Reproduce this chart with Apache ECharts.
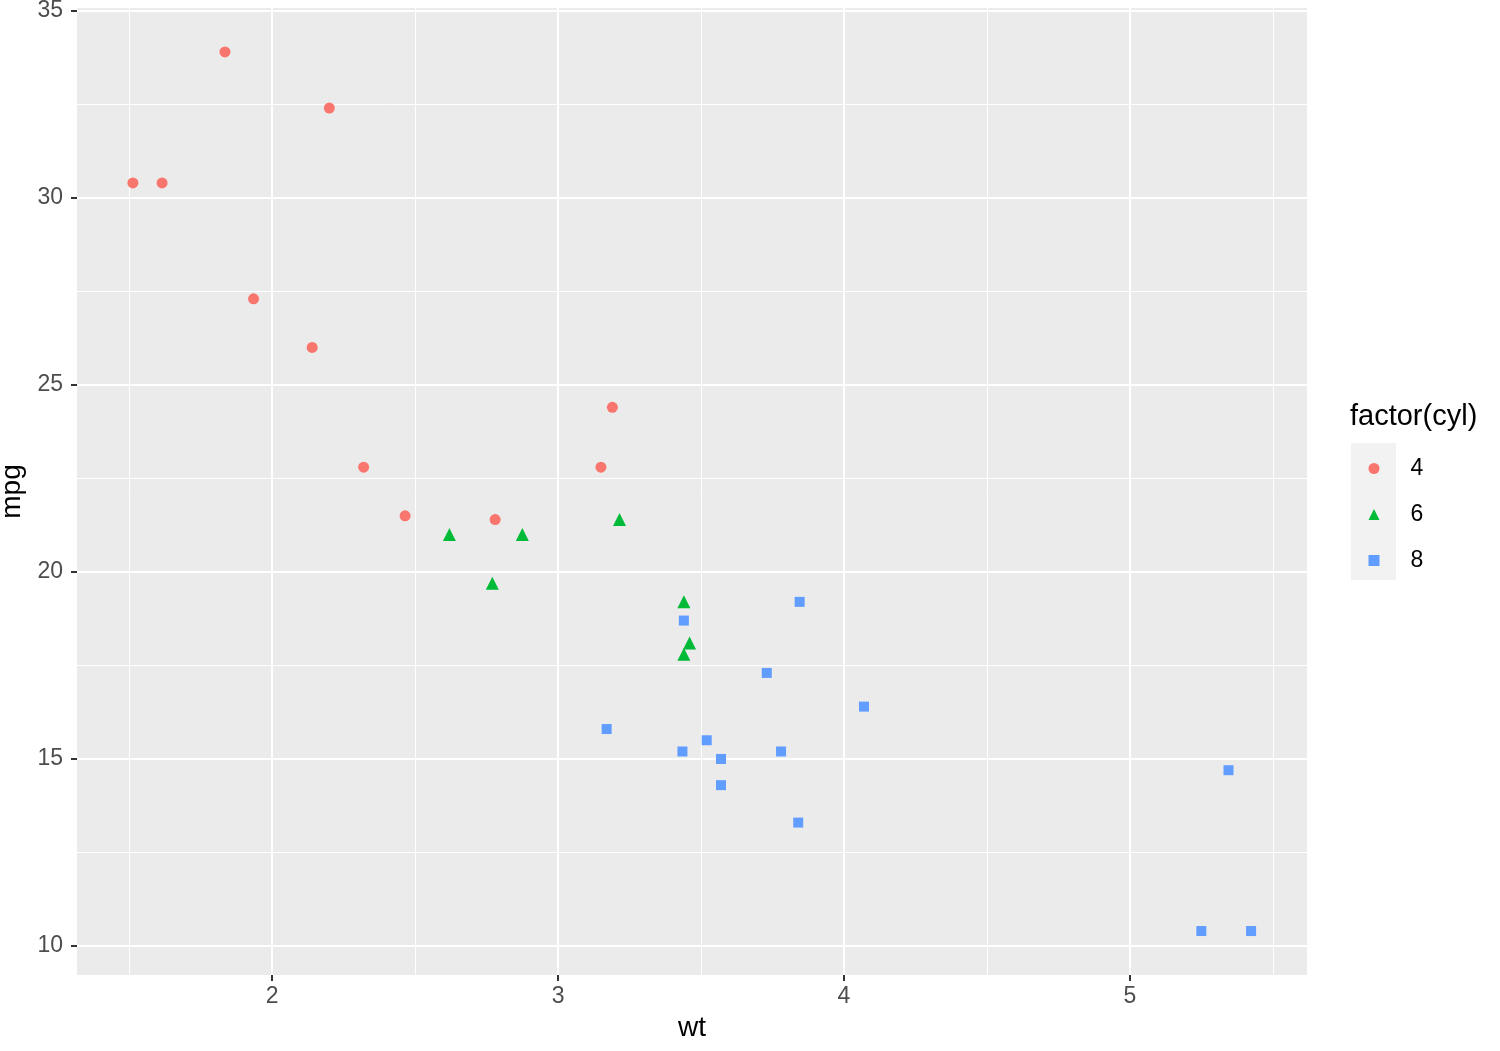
<!DOCTYPE html>
<html>
<head>
<meta charset="utf-8">
<script src="https://cdn.jsdelivr.net/npm/echarts@6/dist/echarts.min.js"></script>
<style>
  html, body { margin: 0; padding: 0; background: #fff; }
  #main { width: 1500px; height: 1051px; }
</style>
</head>
<body>
<div id="main"></div>
<script>
// mtcars: wt (1000 lbs) vs mpg, split by number of cylinders
const wt4 = [2.320, 3.190, 3.150, 2.200, 1.615, 1.835, 2.465, 1.935, 2.140, 1.513, 2.780];
const mpg4 = [22.8, 24.4, 22.8, 32.4, 30.4, 33.9, 21.5, 27.3, 26.0, 30.4, 21.4];

const wt6 = [2.620, 2.875, 3.215, 3.460, 3.440, 3.440, 2.770];
const mpg6 = [21.0, 21.0, 21.4, 18.1, 19.2, 17.8, 19.7];

const wt8 = [3.440, 3.570, 4.070, 3.730, 3.780, 5.250, 5.424, 5.345, 3.520, 3.435, 3.840, 3.845, 3.170, 3.570];
const mpg8 = [18.7, 14.3, 16.4, 17.3, 15.2, 10.4, 10.4, 14.7, 15.5, 15.2, 13.3, 19.2, 15.8, 15.0];

const cylLevels = ['4', '6', '8'];

const dom = document.getElementById('main');
const myChart = echarts.init(dom);

// ggplot-style expanded range (5% each side)
function expand(vals) {
  const lo = Math.min(...vals), hi = Math.max(...vals);
  const pad = (hi - lo) * 0.05;
  return [lo - pad, hi + pad];
}
const allWt = wt4.concat(wt6, wt8);
const allMpg = mpg4.concat(mpg6, mpg8);
const xr = expand(allWt);
const yr = expand(allMpg);

function pairs(xs, ys) {
  return xs.map((x, i) => [x, ys[i]]);
}

const font = 'Liberation Sans, Arial, sans-serif';
const tickLabel = { color: '#4D4D4D', fontSize: 23, fontFamily: font };

myChart.setOption({
  animation: false,
  backgroundColor: '#fff',
  title: {
    text: 'factor(cyl)',
    left: 1350,
    top: 402,
    padding: 0,
    textStyle: { color: '#000', fontSize: 29, fontWeight: 'normal', fontFamily: font }
  },
  graphic: [{
    type: 'rect',
    shape: { x: 1351, y: 443, width: 45, height: 137 },
    style: { fill: '#F2F2F2' },
    z: 0
  }],
  legend: {
    data: cylLevels,
    orient: 'vertical',
    left: 1368.5,
    top: 457,
    padding: 0,
    itemWidth: 11,
    itemHeight: 11,
    itemGap: 23,
    textStyle: { color: '#000', fontSize: 23, padding: [0, 0, 0, 26], fontFamily: font },
    z: 5
  },
  grid: {
    left: 77,
    right: 193,
    top: 8,
    bottom: 76,
    outerBoundsMode: 'none',
    containLabel: false,
    show: true,
    backgroundColor: '#EBEBEB',
    borderWidth: 0
  },
  xAxis: {
    type: 'value',
    name: 'wt',
    nameLocation: 'middle',
    nameGap: 39,
    nameTextStyle: { color: '#000', fontSize: 28, fontFamily: font },
    min: xr[0],
    max: xr[1],
    splitNumber: 5,
    axisLine: { show: false },
    axisTick: { show: true, length: 6, lineStyle: { color: '#333', width: 2 } },
    axisLabel: Object.assign({ margin: 10, showMinLabel: false, showMaxLabel: false }, tickLabel),
    splitLine: { show: true, showMinLine: false, showMaxLine: false, lineStyle: { color: '#fff', width: 2 } },
    minorTick: { show: false, splitNumber: 2 },
    minorSplitLine: { show: true, lineStyle: { color: '#fff', width: 1 } }
  },
  yAxis: {
    type: 'value',
    name: 'mpg',
    nameLocation: 'middle',
    nameGap: 47,
    nameRotate: 90,
    nameTextStyle: { color: '#000', fontSize: 28, fontFamily: font },
    min: yr[0],
    max: yr[1],
    splitNumber: 5,
    axisLine: { show: false },
    axisTick: { show: true, length: 6, lineStyle: { color: '#333', width: 2 } },
    axisLabel: Object.assign({ margin: 14, showMinLabel: false, showMaxLabel: false }, tickLabel),
    splitLine: { show: true, showMinLine: false, showMaxLine: false, lineStyle: { color: '#fff', width: 2 } },
    minorTick: { show: false, splitNumber: 2 },
    minorSplitLine: { show: true, lineStyle: { color: '#fff', width: 1 } }
  },
  series: [
    {
      name: '4', type: 'scatter', symbol: 'circle', symbolSize: 11,
      itemStyle: { color: '#F8766D', opacity: 1 },
      data: pairs(wt4, mpg4), z: 3
    },
    {
      name: '6', type: 'scatter', symbol: 'triangle', symbolSize: 13,
      itemStyle: { color: '#00BA38', opacity: 1 },
      data: pairs(wt6, mpg6), z: 3
    },
    {
      name: '8', type: 'scatter', symbol: 'rect', symbolSize: 10,
      itemStyle: { color: '#619CFF', opacity: 1 },
      data: pairs(wt8, mpg8), z: 3
    }
  ]
});
</script>
</body>
</html>
